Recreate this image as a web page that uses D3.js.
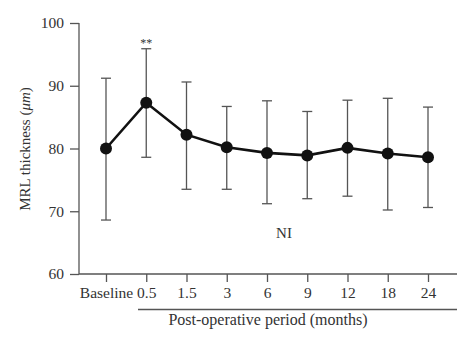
<!DOCTYPE html>
<html>
<head>
<meta charset="utf-8">
<script src="https://cdn.jsdelivr.net/npm/d3@7"></script>
<style>
  body { margin: 0; background: #fff; }
  svg { display: block; }
  text { font-family: "Liberation Serif", "DejaVu Serif", serif; fill: #333; }
</style>
</head>
<body>
<svg id="chart" width="474" height="346"></svg>
<script>
var categories = ["Baseline", "0.5", "1.5", "3", "6", "9", "12", "18", "24"];
var means = [80.0, 87.3, 82.2, 80.2, 79.3, 78.9, 80.1, 79.2, 78.6];
var upper = [91.2, 95.9, 90.6, 86.7, 87.6, 85.9, 87.7, 88.0, 86.6];
var lower = [68.6, 78.6, 73.5, 73.5, 71.2, 72.0, 72.4, 70.2, 70.6];
var yTicks = [60, 70, 80, 90, 100];

var svg = d3.select("#chart");
var axisColor = "#555";

var x = d3.scalePoint()
    .domain(categories)
    .range([106, 428]);

var y = d3.scaleLinear()
    .domain([60, 100])
    .range([274, 23]);

// y axis
var yAxis = svg.append("g")
    .attr("transform", "translate(79,0)")
    .call(d3.axisLeft(y).tickValues(yTicks).tickSize(9).tickPadding(6));
yAxis.select(".domain").attr("stroke", axisColor).attr("stroke-width", 1.3)
    .attr("d", "M0," + y(100) + "V" + y(60));
yAxis.selectAll(".tick line").attr("stroke", axisColor).attr("stroke-width", 1.3);
yAxis.selectAll(".tick text").style("font-size", "15.5px").attr("fill", "#333")
    .attr("font-family", "Liberation Serif, serif");

// x axis
var xAxis = svg.append("g")
    .attr("transform", "translate(0,274)")
    .call(d3.axisBottom(x).tickSize(8).tickPadding(5));
xAxis.select(".domain").attr("stroke", axisColor).attr("stroke-width", 1.3)
    .attr("d", "M79,0H457");
xAxis.selectAll(".tick line").attr("stroke", axisColor).attr("stroke-width", 1.3);
xAxis.selectAll(".tick text").style("font-size", "15.5px").attr("fill", "#333")
    .attr("font-family", "Liberation Serif, serif");

// bracket line under post-op labels
svg.append("line")
    .attr("x1", 138).attr("x2", 457)
    .attr("y1", 309.5).attr("y2", 309.5)
    .attr("stroke", axisColor).attr("stroke-width", 1.3);

svg.append("text")
    .attr("x", 268).attr("y", 325)
    .attr("text-anchor", "middle")
    .style("font-size", "16px")
    .text("Post-operative period (months)");

// y label
var yl = svg.append("text")
    .attr("transform", "translate(30,149) rotate(-90)")
    .attr("text-anchor", "middle")
    .style("font-size", "15px");
yl.append("tspan").text("MRL thickness (");
yl.append("tspan").attr("font-style", "italic").text("μm");
yl.append("tspan").text(")");

// error bars
var bars = svg.append("g");
categories.forEach(function(c, i) {
  var cx = x(c);
  bars.append("line")
      .attr("x1", cx).attr("x2", cx)
      .attr("y1", y(upper[i])).attr("y2", y(lower[i]))
      .attr("stroke", axisColor).attr("stroke-width", 1.3);
  [upper[i], lower[i]].forEach(function(v) {
    bars.append("line")
        .attr("x1", cx - 5).attr("x2", cx + 5)
        .attr("y1", y(v)).attr("y2", y(v))
        .attr("stroke", axisColor).attr("stroke-width", 1.3);
  });
});

// mean line
var line = d3.line()
    .x(function(d, i) { return x(categories[i]); })
    .y(function(d) { return y(d); });

svg.append("path")
    .datum(means)
    .attr("d", line)
    .attr("fill", "none")
    .attr("stroke", "#111")
    .attr("stroke-width", 2.6);

svg.selectAll(".dot")
    .data(means)
    .enter().append("circle")
    .attr("class", "dot")
    .attr("cx", function(d, i) { return x(categories[i]); })
    .attr("cy", function(d) { return y(d); })
    .attr("r", 6)
    .attr("fill", "#111");

// annotations
svg.append("text")
    .attr("x", x("0.5")).attr("y", 47)
    .attr("text-anchor", "middle")
    .style("font-size", "12px")
    .text("**");

svg.append("text")
    .attr("x", 284).attr("y", 238)
    .attr("text-anchor", "middle")
    .style("font-size", "15px")
    .text("NI");
</script>
</body>
</html>
